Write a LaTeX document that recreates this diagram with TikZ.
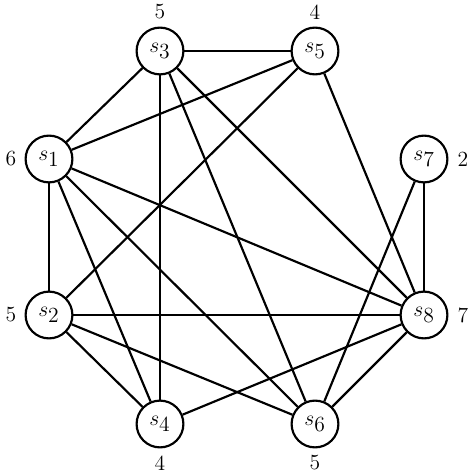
\documentclass[tikz,border=0pt]{standalone}
\newcommand{\sv}[1]{$s_{\textstyle #1}$}
\begin{document}
\begin{tikzpicture}[x=0.5556pt,y=-0.5556pt,
  font=\large,
  vtx/.style={circle,draw,line width=1.2pt,minimum size=26pt,inner sep=0pt,fill=white},
  lbl/.style={inner sep=0pt},
  edge/.style={line width=1.2pt}]
\useasboundingbox (0,0) rectangle (474,474);
\node[vtx] (s3) at (160,51) {\sv{3}};
\node[vtx] (s5) at (315,51) {\sv{5}};
\node[vtx] (s1) at (49,159) {\sv{1}};
\node[vtx] (s7) at (424,159) {\sv{7}};
\node[vtx] (s2) at (49,315) {\sv{2}};
\node[vtx] (s8) at (424,315) {\sv{8}};
\node[vtx] (s4) at (160,424) {\sv{4}};
\node[vtx] (s6) at (315,424) {\sv{6}};
\node[lbl] (l3) at (160,12) {5};
\node[lbl] (l5) at (315,12) {4};
\node[lbl] (l1) at (11,159) {6};
\node[lbl] (l7) at (463,159) {2};
\node[lbl] (l2) at (11,315) {5};
\node[lbl] (l8) at (463,315) {7};
\node[lbl] (l4) at (160,463) {4};
\node[lbl] (l6) at (315,463) {5};
\foreach \a/\b in {s3/s5,s3/s1,s3/s4,s3/s6,s3/s8,s5/s1,s5/s2,s5/s8,s1/s2,s1/s4,s1/s6,s1/s8,s2/s8,s2/s4,s2/s6,s7/s8,s7/s6,s8/s4,s8/s6}
  \draw[edge] (\a) -- (\b);
\end{tikzpicture}
\end{document}
